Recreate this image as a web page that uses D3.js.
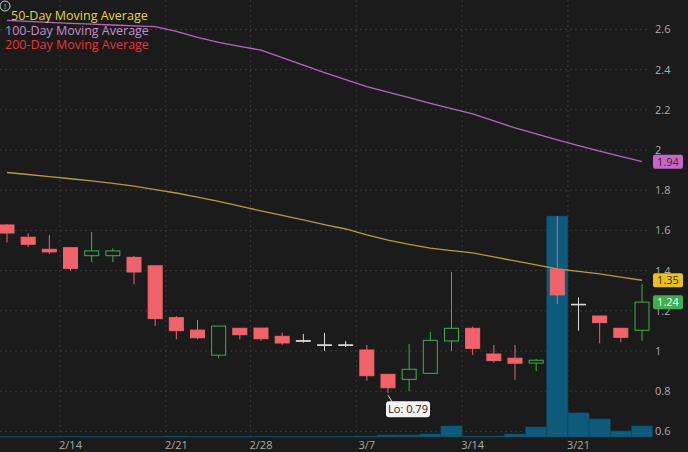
<!DOCTYPE html>
<html><head><meta charset="utf-8">
<script src="https://cdn.jsdelivr.net/npm/d3@7"></script>
<style>body{margin:0;background:#1b1b1b}svg{display:block}</style></head>
<body><svg id="c" width="688" height="452"></svg>
<script>
const opens  =[1.627,1.566,1.506,1.514,1.474,1.474,1.466,1.424,1.166,1.104,0.979,1.113,1.114,1.073,1.051,1.030,1.030,1.005,0.884,0.859,0.889,1.050,1.113,0.985,0.964,0.940,1.406,1.232,1.174,1.113,1.103];
const closes =[1.587,1.531,1.493,1.411,1.498,1.498,1.393,1.161,1.101,1.066,1.124,1.081,1.061,1.040,1.051,1.030,1.030,0.877,0.817,0.909,1.053,1.113,1.013,0.952,0.939,0.954,1.279,1.232,1.141,1.068,1.243];
const highs  =[1.630,1.585,1.577,1.514,1.592,1.511,1.473,1.424,1.174,1.154,1.124,1.113,1.114,1.091,1.085,1.090,1.050,1.030,0.884,1.035,1.095,1.393,1.121,1.030,1.030,0.960,1.672,1.267,1.174,1.113,1.333];
const lows   =[1.540,1.517,1.483,1.400,1.441,1.443,1.332,1.124,1.058,1.058,0.964,1.058,1.051,1.030,1.041,1.001,1.020,0.852,0.790,0.800,0.889,1.000,0.980,0.942,0.856,0.900,1.234,1.101,1.038,1.043,1.050];
const volumes=[0.3,0.3,0.3,0.3,0.3,0.3,0.3,0.3,0.5,0.3,0.3,0.3,0.3,0.3,0.3,0.3,0.4,0.5,1,1,1.5,5.5,0.5,0.5,1.5,5,110,12,9,3,5.5];
const ma50   =[1.888,1.878,1.868,1.857,1.846,1.834,1.820,1.803,1.786,1.766,1.744,1.721,1.697,1.675,1.652,1.629,1.607,1.578,1.552,1.530,1.512,1.499,1.488,1.468,1.448,1.428,1.408,1.396,1.384,1.368,1.352];
const ma100  =[2.645,2.640,2.635,2.630,2.626,2.622,2.618,2.614,2.590,2.560,2.535,2.515,2.497,2.460,2.422,2.385,2.350,2.315,2.288,2.260,2.232,2.206,2.180,2.145,2.110,2.080,2.050,2.022,1.995,1.968,1.942];
const dateLabels=[{i:3,t:"2/14"},{i:8,t:"2/21"},{i:12,t:"2/28"},{i:17,t:"3/7"},{i:22,t:"3/14"},{i:27,t:"3/21"}];
const yTicks=[0.6,0.8,1,1.2,1.4,1.6,1.8,2,2.2,2.4,2.6];

const svg=d3.select("#c");
const W=688,H=452,plotR=650,plotB=437;
svg.append("rect").attr("width",W).attr("height",H).attr("fill","#1b1b1b");
const idx=d3.range(opens.length);
const x=d3.scaleLinear().domain([0,30]).range([7,642]);
const step=x(1)-x(0);
const y=d3.scaleLinear().domain([1,2]).range([351,150]);
const yv=d3.scaleLinear().domain([0,110]).range([plotB,216]);
const font="Open Sans, sans-serif";
svg.append("g").selectAll("line").data(yTicks).join("line")
 .attr("x1",0).attr("x2",plotR).attr("y1",d=>y(d)).attr("y2",d=>y(d))
 .attr("stroke","#3a3a3a").attr("stroke-dasharray","2,3");
svg.append("g").selectAll("line").data(dateLabels).join("line")
 .attr("x1",d=>x(d.i)-step/2).attr("x2",d=>x(d.i)-step/2).attr("y1",0).attr("y2",plotB)
 .attr("stroke","#3a3a3a").attr("stroke-dasharray","2,3");
svg.append("g").selectAll("rect").data(idx).join("rect")
 .attr("x",i=>x(i)-step/2).attr("width",step).attr("y",i=>yv(volumes[i])).attr("height",i=>plotB-yv(volumes[i]))
 .attr("fill","#0e5a7a").attr("stroke","#0b4660").attr("stroke-width",0.5);
const ln=d3.line().x((d,i)=>x(i)).y(d=>y(d));
svg.append("path").attr("d",ln(ma100)).attr("fill","none").attr("stroke","#b765c4").attr("stroke-width",1.3);
svg.append("path").attr("d",ln(ma50)).attr("fill","none").attr("stroke","#b89a3a").attr("stroke-width",1.3);
const col=i=>closes[i]>opens[i]?"#3fae4f":closes[i]<opens[i]?"#f0636b":"#d8d8d8";
const g=svg.append("g");
g.selectAll("line").data(idx).join("line")
 .attr("x1",i=>x(i)).attr("x2",i=>x(i)).attr("y1",i=>y(highs[i])).attr("y2",i=>y(lows[i]))
 .attr("stroke",col).attr("stroke-width",1);
const bw=15;
g.selectAll("rect").data(idx).join("rect")
 .attr("x",i=>x(i)-bw/2+0.5).attr("width",bw-1)
 .attr("y",i=>y(Math.max(opens[i],closes[i])))
 .attr("height",i=>Math.max(0.5,Math.abs(y(opens[i])-y(closes[i]))))
 .attr("fill",i=>closes[i]>opens[i]?"#1b1b1b":col(i))
 .attr("stroke",col).attr("stroke-width",1);
g.selectAll(".dj").data(idx.filter(i=>opens[i]===closes[i])).join("line")
 .attr("x1",i=>x(i)-7).attr("x2",i=>x(i)+7).attr("y1",i=>y(opens[i])).attr("y2",i=>y(opens[i]))
 .attr("stroke","#d8d8d8");
svg.append("g").selectAll("text").data(yTicks).join("text")
 .attr("x",655).attr("y",d=>y(d)+4).text(d=>d).attr("fill","#aaa").attr("font-size",11).attr("font-family",font);
svg.append("g").selectAll("text").data(dateLabels).join("text")
 .attr("x",d=>x(d.i)).attr("y",449).attr("text-anchor","middle").text(d=>d.t).attr("fill","#aaa").attr("font-size",11).attr("font-family",font);
function tag(v,bg,fg){const yy=y(v);
 svg.append("rect").attr("x",653).attr("y",yy-7).attr("width",30).attr("height",14).attr("rx",2).attr("fill",bg);
 svg.append("text").attr("x",668).attr("y",yy+4).attr("text-anchor","middle").text(v.toFixed(2)).attr("fill",fg).attr("font-size",11).attr("font-family",font);}
tag(ma100[30],"#c766c9","#3a1a3a");
tag(ma50[30],"#e8c020","#332800");
tag(closes[30],"#3fae4f","#fff");
const li=18;
svg.append("line").attr("x1",x(li)).attr("x2",x(li)+5).attr("y1",y(lows[li])+2).attr("y2",y(lows[li])+10).attr("stroke","#ddd");
svg.append("rect").attr("x",x(li)-2).attr("y",y(lows[li])+8).attr("width",44).attr("height",16).attr("rx",3).attr("fill","#f2f2f2");
svg.append("text").attr("x",x(li)+20).attr("y",y(lows[li])+20).attr("text-anchor","middle").text("Lo: "+lows[li]).attr("fill","#222").attr("font-size",11).attr("font-family",font);
const leg=[["50-Day Moving Average","#e3d43a"],["100-Day Moving Average","#c58fd0"],["200-Day Moving Average","#e8323c"]];
svg.append("g").selectAll("text").data(leg).join("text").attr("x",(d,i)=>i==0?11:5).attr("y",(d,i)=>20+i*14.5)
 .text(d=>d[0]).attr("fill",d=>d[1]).attr("font-size",12.5).attr("font-family",font);
svg.append("circle").attr("cx",5).attr("cy",6).attr("r",5).attr("fill","none").attr("stroke","#ccc");
svg.append("text").attr("x",5).attr("y",9).attr("text-anchor","middle").text("!").attr("fill","#ccc").attr("font-size",8).attr("font-family",font);
</script></body></html>
